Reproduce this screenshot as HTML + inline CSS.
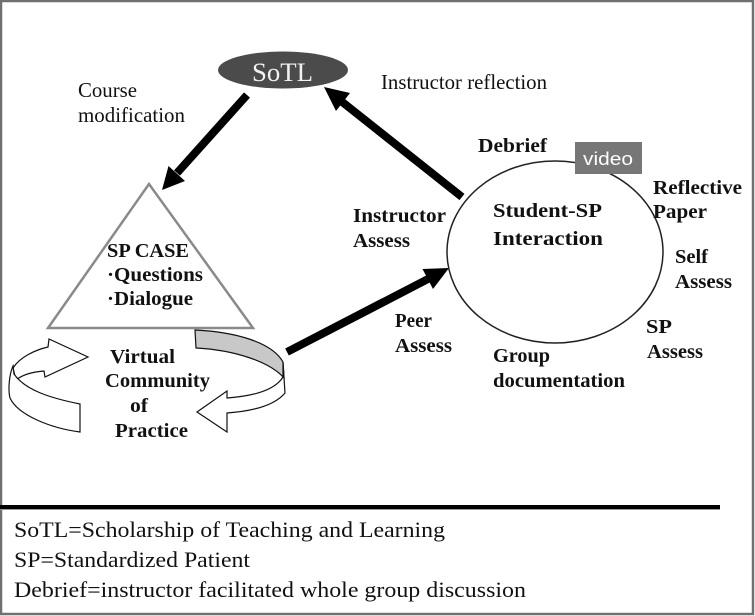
<!DOCTYPE html>
<html><head><meta charset="utf-8"><style>
html,body{margin:0;padding:0;background:#fff;}
svg{display:block;}
text{font-family:"Liberation Serif","Times New Roman",Times,serif;fill:#111;}
.b{font-weight:bold;font-size:20px;}
.n{font-size:21px;}
</style></head><body>
<svg width="755" height="616" viewBox="0 0 755 616" xmlns="http://www.w3.org/2000/svg" font-family="Liberation Serif, Times New Roman, Times, serif">
<rect x="0" y="0" width="755" height="616" fill="#fff"/>
<rect x="1" y="1" width="752" height="613" fill="none" stroke="#707070" stroke-width="2.5"/>
<rect x="0" y="505" width="720" height="4" fill="#000"/>
<rect x="0" y="509" width="720" height="1" fill="#999"/>

<ellipse cx="283" cy="70" rx="65" ry="18.5" fill="#4b4b4b"/>
<text x="252" y="81" font-size="26" textLength="61" lengthAdjust="spacingAndGlyphs" style="fill:#f2f2f2">SoTL</text>

<text class="n" x="78" y="97" textLength="59" lengthAdjust="spacingAndGlyphs">Course</text>
<text class="n" x="78" y="122" textLength="107" lengthAdjust="spacingAndGlyphs">modification</text>
<text class="n" x="381" y="89" textLength="166" lengthAdjust="spacingAndGlyphs">Instructor reflection</text>

<line x1="247" y1="95" x2="177" y2="173" stroke="#000" stroke-width="8"/>
<polygon points="162,190 185,181 168.5,166" fill="#000"/>
<line x1="462" y1="197" x2="341" y2="101" stroke="#000" stroke-width="8"/>
<polygon points="324,87 350,93 336,111" fill="#000"/>
<line x1="287" y1="352" x2="428" y2="279" stroke="#000" stroke-width="8"/>
<polygon points="449,268 433,289 422.5,269" fill="#000"/>

<polygon points="149,184 48,328 253,328" fill="#fff" stroke="#8a8a8a" stroke-width="2.5"/>
<text class="b" x="107" y="257" textLength="82" lengthAdjust="spacingAndGlyphs">SP CASE</text>
<text class="b" x="107" y="281" textLength="96" lengthAdjust="spacingAndGlyphs">·Questions</text>
<text class="b" x="107" y="305" textLength="86" lengthAdjust="spacingAndGlyphs">·Dialogue</text>

<path d="M13,368 C20,357 35,350 48,347 L49,339 L88,357 L45,377 L44,371 C32,372 22,375 16,380 Z" fill="#fff" stroke="#111" stroke-width="1.2"/>
<path d="M13,366 C9,375 8,390 10,398 C18,415 50,428 80,432 L80,404 C50,398 25,390 14,374 Z" fill="#fff" stroke="#111" stroke-width="1.2"/>
<path d="M195,330 C235,332 272,342 283,362 L284,378 C270,362 235,350 196,348 Z" fill="#c8c8c8" stroke="#111" stroke-width="1.2"/>
<path d="M283,362 L285,393 C275,405 255,411 227,413 L227,432 L197,412 L227,391 L227,398 C255,396 275,390 283,377 Z" fill="#fff" stroke="#111" stroke-width="1.2"/>

<text class="b" x="110" y="363" textLength="65" lengthAdjust="spacingAndGlyphs">Virtual</text>
<text class="b" x="105" y="387" textLength="105" lengthAdjust="spacingAndGlyphs">Community</text>
<text class="b" x="130" y="412" textLength="18" lengthAdjust="spacingAndGlyphs">of</text>
<text class="b" x="115" y="437" textLength="73" lengthAdjust="spacingAndGlyphs">Practice</text>

<ellipse cx="555" cy="252" rx="108" ry="91" fill="none" stroke="#222" stroke-width="1.5"/>
<rect x="575" y="142" width="67" height="32" fill="#777"/>
<text x="583" y="165" font-size="18" textLength="50" lengthAdjust="spacingAndGlyphs" style="font-family:'Liberation Sans',Arial,sans-serif;fill:#fff">video</text>

<text class="b" x="478" y="152" textLength="69" lengthAdjust="spacingAndGlyphs">Debrief</text>
<text class="b" x="493" y="217" font-size="21" textLength="109" lengthAdjust="spacingAndGlyphs">Student-SP</text>
<text class="b" x="493" y="245" font-size="21" textLength="110" lengthAdjust="spacingAndGlyphs">Interaction</text>
<text class="b" x="353" y="222" textLength="93" lengthAdjust="spacingAndGlyphs">Instructor</text>
<text class="b" x="353" y="247" textLength="57" lengthAdjust="spacingAndGlyphs">Assess</text>
<text class="b" x="653" y="194" textLength="89" lengthAdjust="spacingAndGlyphs">Reflective</text>
<text class="b" x="653" y="218" textLength="54" lengthAdjust="spacingAndGlyphs">Paper</text>
<text class="b" x="675" y="263" textLength="33" lengthAdjust="spacingAndGlyphs">Self</text>
<text class="b" x="675" y="288" textLength="57" lengthAdjust="spacingAndGlyphs">Assess</text>
<text class="b" x="646" y="333" textLength="26" lengthAdjust="spacingAndGlyphs">SP</text>
<text class="b" x="647" y="358" textLength="56" lengthAdjust="spacingAndGlyphs">Assess</text>
<text class="b" x="395" y="327" textLength="37" lengthAdjust="spacingAndGlyphs">Peer</text>
<text class="b" x="395" y="352" textLength="57" lengthAdjust="spacingAndGlyphs">Assess</text>
<text class="b" x="493" y="362" textLength="57" lengthAdjust="spacingAndGlyphs">Group</text>
<text class="b" x="493" y="387" textLength="132" lengthAdjust="spacingAndGlyphs">documentation</text>

<text x="14" y="537" font-size="22" textLength="431" lengthAdjust="spacingAndGlyphs">SoTL=Scholarship of Teaching and Learning</text>
<text x="14" y="567" font-size="22" textLength="236" lengthAdjust="spacingAndGlyphs">SP=Standardized Patient</text>
<text x="14" y="597" font-size="22" textLength="512" lengthAdjust="spacingAndGlyphs">Debrief=instructor facilitated whole group discussion</text>
</svg>
</body></html>
